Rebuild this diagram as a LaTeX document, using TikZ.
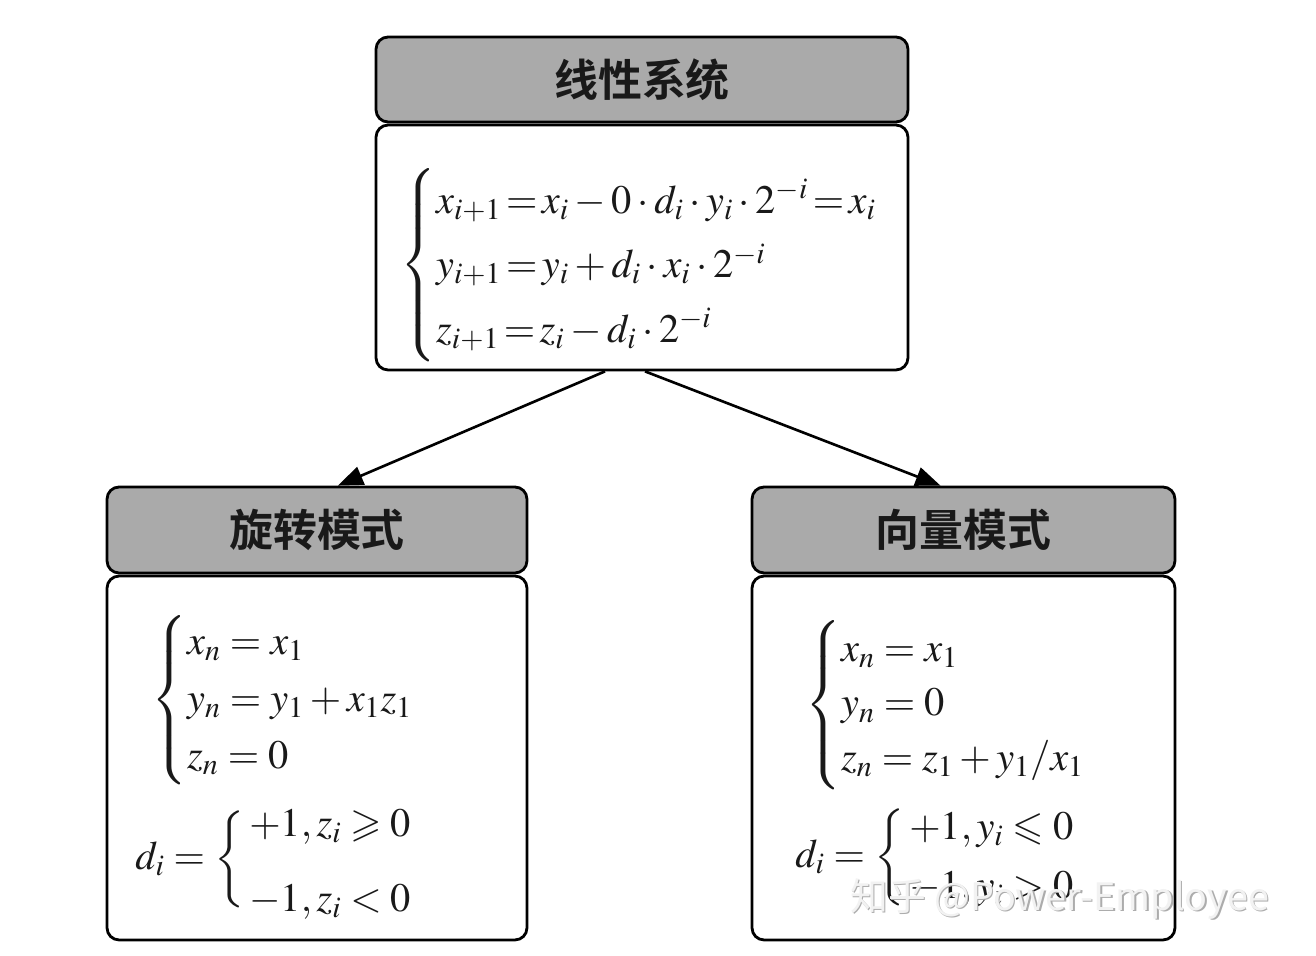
\documentclass[tikz,border=0pt]{standalone}
\usepackage{amsmath,amssymb}
\usepackage{mathptmx}
\usepackage{fontspec}
\newfontfamily\cjkb[BoldFont={Noto Sans CJK SC Bold}]{Noto Sans CJK SC}
\newfontfamily\wmfont{Noto Sans CJK SC}
\usetikzlibrary{arrows.meta,calc}
\definecolor{hdr}{RGB}{170,170,170}
\definecolor{txt}{RGB}{25,25,25}
% two-row case with a brace of fixed size
\newcommand{\dcase}[4]{\left\{\vcenter{\hbox{\rule{0pt}{#1}}}\right.\kern-1pt
  \def\arraystretch{#2}\begin{array}{@{}l@{}}#3\\#4\end{array}}
\tikzset{
  hdrbox/.style={draw=black, line width=1.6pt, rounded corners=0.24cm, fill=hdr, text=txt,
    font=\cjkb\bfseries\fontsize{25}{30}\selectfont, inner sep=0pt},
  bodybox/.style={draw=black, line width=1.6pt, rounded corners=0.24cm, fill=white, inner sep=0pt},
  eqn/.style={inner sep=0pt, anchor=west, text=txt},
  conn/.style={line width=1.5pt, -{Triangle[length=0.5cm,width=0.38cm]}},
  wmark/.style={anchor=base west, inner sep=0pt, font=\wmfont\fontsize{21.5}{25}\selectfont}
}
\begin{document}
\begin{tikzpicture}[x=0.02cm,y=-0.02cm]
\useasboundingbox (0,0) rectangle (1316,956);
% top
\node[hdrbox, minimum width=10.64cm, minimum height=1.70cm] (th) at (642,79.5) {线性系统};
\node[bodybox, minimum width=10.64cm, minimum height=4.90cm] (tb) at (642,247.5) {};
\node[eqn] (teq) at (400,265) {\fontsize{23}{30.5}\selectfont$\begin{cases}
x_{i+1}\!=\!x_i-0\cdot d_i\cdot y_i\cdot 2^{-i}\!=\!x_i\\
y_{i+1}\!=\!y_i+d_i\cdot x_i\cdot 2^{-i}\\
z_{i+1}\!=\!z_i-d_i\cdot 2^{-i}
\end{cases}$};
% left
\node[hdrbox, minimum width=8.40cm, minimum height=1.72cm] (lh) at (317,530) {旋转模式};
\node[bodybox, minimum width=8.40cm, minimum height=7.28cm] (lb) at (317,758) {};
\node[eqn] (leq) at (151,700) {\fontsize{23}{27}\selectfont$\begin{cases}
x_n=x_1\\
y_n=y_1+x_1z_1\\
z_n=0
\end{cases}$};
\node[eqn] (ld) at (135,859) {\fontsize{23}{30}\selectfont$d_i=\dcase{58pt}{1.42}{+1, z_i\geqslant 0}{-1, z_i<0}$};
% right
\node[hdrbox, minimum width=8.46cm, minimum height=1.72cm] (rh) at (963.5,530) {向量模式};
\node[bodybox, minimum width=8.46cm, minimum height=7.28cm] (rb) at (963.5,758) {};
\node[eqn] (req) at (805,705) {\fontsize{23}{26}\selectfont$\begin{cases}
x_n=x_1\\
y_n=0\\
z_n=z_1+y_1/x_1
\end{cases}$};
\node[eqn] (rd) at (795,857) {\fontsize{23}{30}\selectfont$d_i=\dcase{52pt}{1.12}{+1, y_i\leqslant 0}{-1, y_i>0}$};
% connectors
\coordinate (s1) at ($(tb.south)+(-37,0)$);
\coordinate (s2) at ($(tb.south)+(3,0)$);
\coordinate (e1) at ($(lh.north)+(21,0)$);
\coordinate (e2) at ($(rh.north)+(-23,0)$);
\draw[conn] (s1) -- (e1);
\draw[conn] (s2) -- (e2);
% watermark
\node[wmark, text=gray!65] (wms) at (851.5,911.5) {知乎 @Power-Employee};
\node[wmark, text=gray!10] (wm) at (850,910) {知乎 @Power-Employee};
\end{tikzpicture}
\end{document}
